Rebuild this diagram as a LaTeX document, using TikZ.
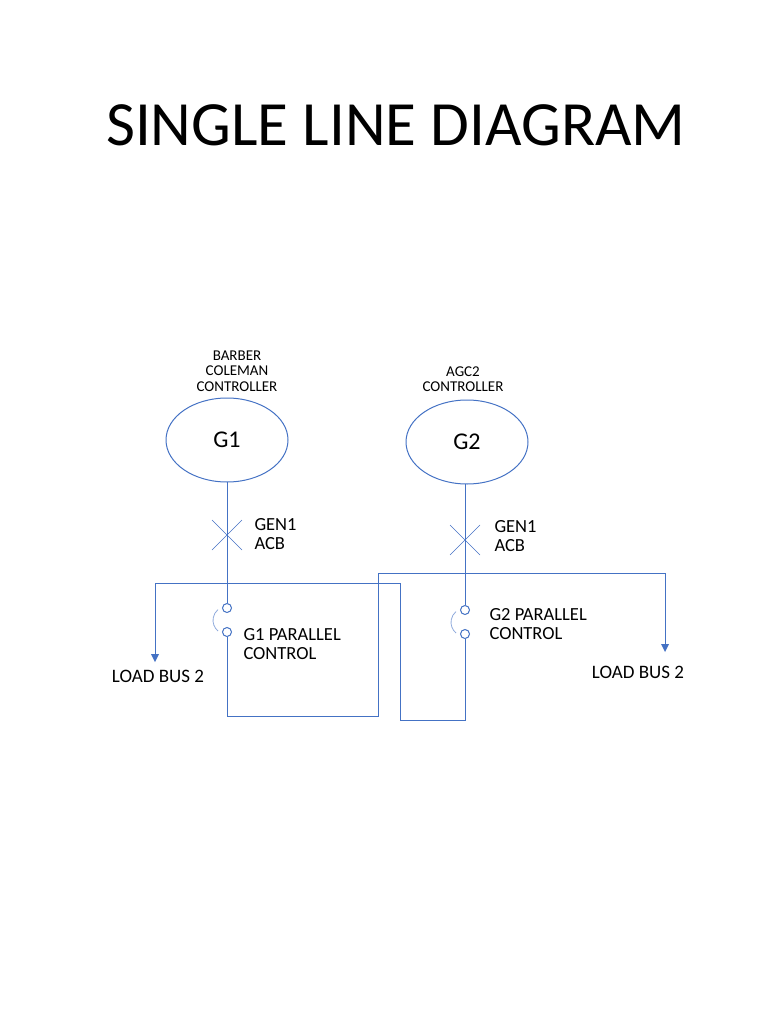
\documentclass[tikz,border=0pt]{standalone}
\usepackage{fontspec}
\setmainfont{Carlito}
\definecolor{wire}{HTML}{4472C4}
\definecolor{arcc}{HTML}{8FAADC}
\begin{document}
\begin{tikzpicture}[x=1pt,y=-1pt,
  w/.style={draw=wire,line width=1pt},
  ct/.style={draw=wire,line width=1pt,circle,minimum size=9pt,inner sep=0pt,fill=white},
  lbl/.style={font=\fontsize{18.5}{19}\selectfont,align=left,anchor=west},
  small/.style={font=\fontsize{15}{15.5}\selectfont,align=center}]
\useasboundingbox (0,0) rectangle (768,1024);
\node[font=\fontsize{63}{63}\selectfont] (title) at (396,125) {SINGLE LINE DIAGRAM};
\node[small] (c1) at (237,371) {BARBER\\COLEMAN\\CONTROLLER};
\node[small] (c2) at (463,379) {AGC2\\CONTROLLER};
\draw[w] (227,440) ellipse (61 and 42);
\draw[w] (467,442) ellipse (61 and 42);
\node[font=\fontsize{24}{24}\selectfont] (g1) at (227,440) {G1};
\node[font=\fontsize{24}{24}\selectfont] (g2) at (467,442) {G2};
\coordinate (g1b) at (227,482);
\coordinate (g2b) at (465,484);
\node[ct] (a1) at (227,608) {};
\node[ct] (b1) at (227,632) {};
\node[ct] (a2) at (465,610) {};
\node[ct] (b2) at (465,634) {};
\draw[w] (g1b) -- (a1);
\draw[w] (g2b) -- (a2);
\draw[w] (b1) -- (227,716) -- (378,716) -- (378,573) -- (665,573) -- (665,650);
\fill[wire] (665,652) -- (661,644) -- (669,644) -- cycle;
\draw[w] (155,583) -- (400,583) -- (400,720) -- (465,720) -- (b2);
\draw[w] (155,583) -- (155,660);
\fill[wire] (155,662) -- (151,654) -- (159,654) -- cycle;
\draw[wire,line width=0.6pt] (212,520) -- (242,550) (212,550) -- (242,520);
\draw[wire,line width=0.6pt] (450,525) -- (480,555) (450,555) -- (480,525);
\draw[arcc,line width=0.8pt] (218,631) arc[start angle=130,end angle=230,radius=14];
\draw[arcc,line width=0.8pt] (456,633) arc[start angle=130,end angle=230,radius=14];
\node[lbl] (l1) at (491,536) {GEN1\\ACB};
\node[lbl] (l0) at (251,534) {GEN1\\ACB};
\node[lbl] (p1) at (240,644) {G1 PARALLEL\\CONTROL};
\node[lbl] (p2) at (486,624) {G2 PARALLEL\\CONTROL};
\node[font=\fontsize{19}{19}\selectfont] (lb1) at (158,676) {LOAD BUS 2};
\node[font=\fontsize{19}{19}\selectfont] (lb2) at (638,672) {LOAD BUS 2};
\end{tikzpicture}
\end{document}
